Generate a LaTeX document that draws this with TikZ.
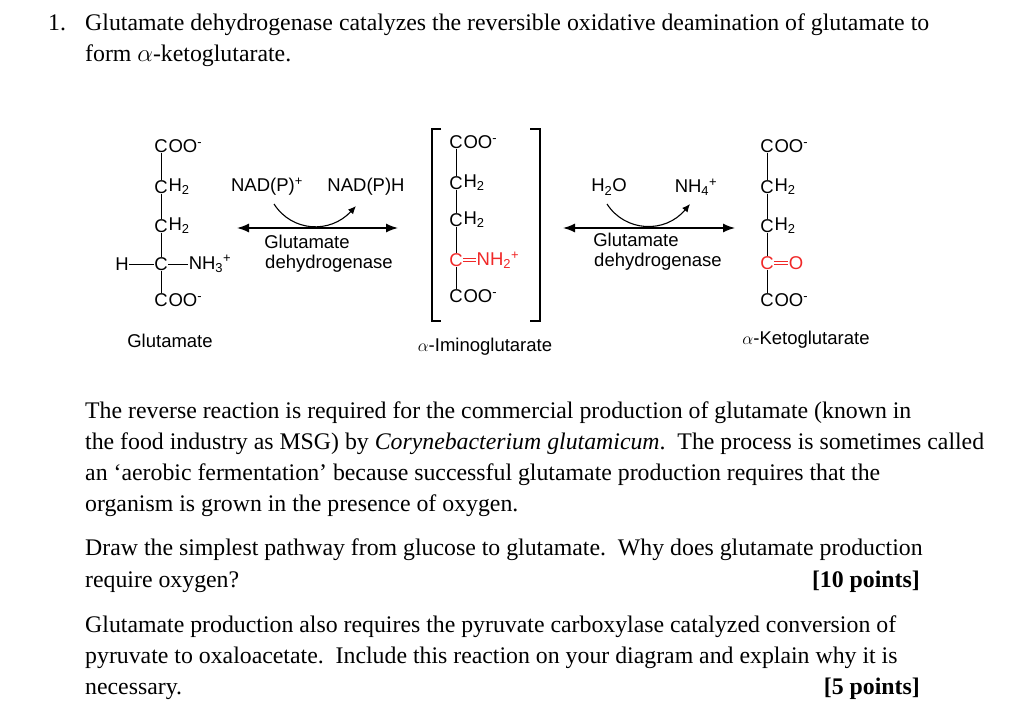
\documentclass[tikz,border=0pt]{standalone}
\usepackage{fontspec}
\setmainfont{Liberation Serif}
\newfontfamily\chemf{Liberation Sans}
\usetikzlibrary{arrows.meta}
\definecolor{chred}{RGB}{240,40,40}
\begin{document}
\begin{tikzpicture}[x=1pt,y=-1pt,
  para/.style={anchor=base west,inner sep=0pt,font=\fontsize{23.8}{26}\selectfont},
  ch/.style={inner sep=0.5pt,font=\chemf\fontsize{18.5}{20}\selectfont},
  chl/.style={anchor=west,inner sep=0pt,font=\chemf\fontsize{18.5}{20}\selectfont},
  lab/.style={inner sep=0pt,font=\chemf\fontsize{18.5}{20}\selectfont},
  bond/.style={line width=1pt},
  rxn/.style={line width=1.4pt,{Latex[length=12pt,width=9pt]}-{Latex[length=12pt,width=9pt]}},
  cof/.style={line width=1.1pt,-{Latex[length=8pt,width=7pt]}},
  brk/.style={line width=1.1pt}]
\useasboundingbox (0,0) rectangle (1024,719);
% header
\node[para] (n1) at (48,31) {1.};
\node[para] (l1) at (85,31) {Glutamate dehydrogenase catalyzes the reversible oxidative deamination of glutamate to};
\node[para] (l2) at (85,62) {form $\alpha$-ketoglutarate.};
% glutamate
\node[ch] (a1) at (161,146) {C}; \node[chl] at (a1.east) {OO\textsuperscript{-}};
\node[ch] (a2) at (161,187) {C}; \node[chl] at (a2.east) {H\textsubscript{2}};
\node[ch] (a3) at (161,226) {C}; \node[chl] at (a3.east) {H\textsubscript{2}};
\node[ch] (a4) at (161,264) {C};
\node[ch] (ah) at (122,264) {H};
\node[ch] (an) at (210,264) {NH\textsubscript{3}\textsuperscript{+}};
\node[ch] (a5) at (161,300) {C}; \node[chl] at (a5.east) {OO\textsuperscript{-}};
\draw[bond] (a1)--(a2); \draw[bond] (a2)--(a3); \draw[bond] (a3)--(a4); \draw[bond] (a4)--(a5);
\draw[bond] (ah)--(a4); \draw[bond] (a4)--(an);
\node[lab] (ga) at (170,341) {Glutamate};
% first arrow
\node[lab] (np) at (267,187) {NAD(P)\textsuperscript{+}};
\node[lab] (nh) at (366,187) {NAD(P)H};
\coordinate (r1l) at (237,228); \coordinate (r1r) at (398,228);
\draw[rxn] (r1l)--(r1r);
\coordinate (c1s) at (274,204); \coordinate (c1e) at (356,206);
\draw[cof] (c1s) .. controls (292,232) and (330,234) .. (c1e);
\node[lab] (e1a) at (307,242) {Glutamate};
\node[lab] (e1b) at (329,264) {dehydrogenase};
% imino
\coordinate (bl1) at (441,129); \coordinate (bl2) at (432,129); \coordinate (bl3) at (432,321); \coordinate (bl4) at (441,321);
\draw[brk] (bl1)--(bl2)--(bl3)--(bl4);
\coordinate (br1) at (530,129); \coordinate (br2) at (540,129); \coordinate (br3) at (540,321); \coordinate (br4) at (530,321);
\draw[brk] (br1)--(br2)--(br3)--(br4);
\node[ch] (b1) at (456,142) {C}; \node[chl] at (b1.east) {OO\textsuperscript{-}};
\node[ch] (b2) at (456,183) {C}; \node[chl] at (b2.east) {H\textsubscript{2}};
\node[ch] (b3) at (456,220) {C}; \node[chl] at (b3.east) {H\textsubscript{2}};
\node[ch,text=chred] (b4) at (456,260) {C};
\node[ch,text=chred,anchor=west] (bn) at (476,260) {NH\textsubscript{2}\textsuperscript{+}};
\node[ch] (b5) at (456,296) {C}; \node[chl] at (b5.east) {OO\textsuperscript{-}};
\draw[bond] (b1)--(b2); \draw[bond] (b2)--(b3); \draw[bond] (b3)--(b4); \draw[bond] (b4)--(b5);
\draw[bond,chred,double,double distance=2pt] (b4)--(bn);
\node[lab] (ib) at (485,347) {$\alpha$-Iminoglutarate};
% second arrow
\node[lab] (wa) at (609,187) {H\textsubscript{2}O};
\node[lab] (am) at (696,187) {NH\textsubscript{4}\textsuperscript{+}};
\coordinate (r2l) at (563,228); \coordinate (r2r) at (735,228);
\draw[rxn] (r2l)--(r2r);
\coordinate (c2s) at (607,204); \coordinate (c2e) at (690,204);
\draw[cof] (c2s) .. controls (625,232) and (665,234) .. (c2e);
\node[lab] (e2a) at (636,240) {Glutamate};
\node[lab] (e2b) at (658,262) {dehydrogenase};
% ketoglutarate
\node[ch] (k1) at (767,146) {C}; \node[chl] at (k1.east) {OO\textsuperscript{-}};
\node[ch] (k2) at (767,187) {C}; \node[chl] at (k2.east) {H\textsubscript{2}};
\node[ch] (k3) at (767,226) {C}; \node[chl] at (k3.east) {H\textsubscript{2}};
\node[ch,text=chred] (k4) at (767,263) {C};
\node[ch,text=chred] (ko) at (796,263) {O};
\node[ch] (k5) at (767,300) {C}; \node[chl] at (k5.east) {OO\textsuperscript{-}};
\draw[bond] (k1)--(k2); \draw[bond] (k2)--(k3); \draw[bond] (k3)--(k4); \draw[bond] (k4)--(k5);
\draw[bond,chred,double,double distance=2pt] (k4)--(ko);
\node[lab] (kg) at (806,340) {$\alpha$-Ketoglutarate};
% paragraphs
\node[para] (p1) at (85,418) {The reverse reaction is required for the commercial production of glutamate (known in};
\node[para] (p2) at (85,449) {the food industry as MSG) by \textit{Corynebacterium glutamicum}.\ \ The process is sometimes called};
\node[para] (p3) at (85,480) {an ‘aerobic fermentation’ because successful glutamate production requires that the};
\node[para] (p4) at (85,511) {organism is grown in the presence of oxygen.};
\node[para] (q1) at (85,555) {Draw the simplest pathway from glucose to glutamate.\ \ Why does glutamate production};
\node[para] (q2) at (85,587) {require oxygen?};
\node[para,anchor=base east] (q3) at (920,587) {\textbf{[10 points]}};
\node[para] (s1) at (85,632) {Glutamate production also requires the pyruvate carboxylase catalyzed conversion of};
\node[para] (s2) at (85,663) {pyruvate to oxaloacetate.\ \ Include this reaction on your diagram and explain why it is};
\node[para] (s3) at (85,694) {necessary.};
\node[para,anchor=base east] (s4) at (920,694) {\textbf{[5 points]}};
\end{tikzpicture}
\end{document}
